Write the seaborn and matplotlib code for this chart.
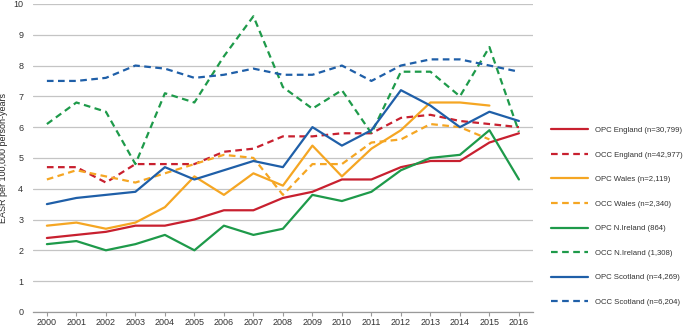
# -*- coding: utf-8 -*-
"""EASR per 100,000 person-years, OPC vs OCC by UK nation, 2000-2016."""
import matplotlib
matplotlib.use("Agg")
import matplotlib.pyplot as plt
import numpy as np
import pandas as pd
import seaborn as sns

YEARS = list(range(2000, 2017))

OPC_ENGLAND = [2.4, 2.5, 2.6, 2.8, 2.8, 3.0, 3.3, 3.3, 3.7, 3.9, 4.3, 4.3, 4.7, 4.9, 4.9, 5.5, 5.8]
OCC_ENGLAND = [4.7, 4.7, 4.2, 4.8, 4.8, 4.8, 5.2, 5.3, 5.7, 5.7, 5.8, 5.8, 6.3, 6.4, 6.2, 6.1, 6.0]
OPC_WALES = [2.8, 2.9, 2.7, 2.9, 3.4, 4.4, 3.8, 4.5, 4.1, 5.4, 4.4, 5.3, 5.9, 6.8, 6.8, 6.7, np.nan]
OCC_WALES = [4.3, 4.6, 4.4, 4.2, 4.5, 4.8, 5.1, 5.0, 3.8, 4.8, 4.8, 5.5, 5.6, 6.1, 6.0, 5.6, np.nan]
OPC_NIRELAND = [2.2, 2.3, 2.0, 2.2, 2.5, 2.0, 2.8, 2.5, 2.7, 3.8, 3.6, 3.9, 4.6, 5.0, 5.1, 5.9, 4.3]
OCC_NIRELAND = [6.1, 6.8, 6.5, 4.8, 7.1, 6.8, 8.3, 9.6, 7.3, 6.6, 7.2, 5.8, 7.8, 7.8, 7.0, 8.6, 5.85]
OPC_SCOTLAND = [3.5, 3.7, 3.8, 3.9, 4.7, 4.3, 4.6, 4.9, 4.7, 6.0, 5.4, 5.9, 7.2, 6.7, 6.0, 6.5, 6.2]
OCC_SCOTLAND = [7.5, 7.5, 7.6, 8.0, 7.9, 7.6, 7.7, 7.9, 7.7, 7.7, 8.0, 7.5, 8.0, 8.2, 8.2, 8.0, 7.8]

SERIES = {
    "OPC England (n=30,799)": OPC_ENGLAND,
    "OCC England (n=42,977)": OCC_ENGLAND,
    "OPC Wales (n=2,119)": OPC_WALES,
    "OCC Wales (n=2,340)": OCC_WALES,
    "OPC N.Ireland (864)": OPC_NIRELAND,
    "OCC N.Ireland (1,308)": OCC_NIRELAND,
    "OPC Scotland (n=4,269)": OPC_SCOTLAND,
    "OCC Scotland (n=6,204)": OCC_SCOTLAND,
}

RED, ORANGE, GREEN, BLUE = "#C8202F", "#F5A623", "#1E9A4A", "#1F5FA8"
COLORS = [RED, RED, ORANGE, ORANGE, GREEN, GREEN, BLUE, BLUE]


def build_frame() -> pd.DataFrame:
    rows = []
    for name, vals in SERIES.items():
        for yr, v in zip(YEARS, vals):
            rows.append({"year": yr, "easr": v, "series": name})
    return pd.DataFrame(rows).dropna()


def main() -> None:
    sns.set_theme(style="white")
    plt.rcParams["font.family"] = ["Liberation Sans", "DejaVu Sans"]
    plt.rcParams["text.color"] = "#333333"

    df = build_frame()
    names = list(SERIES)
    palette = dict(zip(names, COLORS))
    dashes = {n: ("" if n.startswith("OPC") else (3, 2)) for n in names}

    fig = plt.figure(figsize=(6.85, 3.29), dpi=100)
    ax = fig.add_axes([0.048, 0.052, 0.73, 0.936])
    sns.lineplot(data=df, x="year", y="easr", hue="series", style="series",
                 hue_order=names, style_order=names, palette=palette,
                 dashes=dashes, linewidth=1.6, ax=ax)

    ax.set_xlim(1999.525, 2016.475)
    ax.set_ylim(0, 10)
    ax.set_xticks(YEARS)
    ax.set_yticks(range(0, 11))
    ax.tick_params(axis="both", labelsize=6.5, colors="#333333")
    ax.tick_params(axis="x", length=3, width=0.8, color="#9a9a9a",
                   direction="out", bottom=True, pad=1.5)
    ax.tick_params(axis="y", length=0, pad=7)
    ax.yaxis.grid(True, color="#c4c4c4", linewidth=0.9)
    ax.set_axisbelow(True)
    for side in ("left", "right", "top"):
        ax.spines[side].set_visible(False)
    ax.spines["bottom"].set_color("#9a9a9a")
    ax.spines["bottom"].set_linewidth(0.9)
    ax.set_xlabel("")
    ax.set_ylabel("EASR per 100,000 person-years", fontsize=6.5)
    ax.yaxis.set_label_coords(-0.05, 0.5)

    handles, labels = ax.get_legend_handles_labels()
    ax.legend(handles, labels, loc="upper left", bbox_to_anchor=(0.805, 0.615),
              bbox_transform=fig.transFigure, frameon=False, fontsize=5.6,
              handlelength=4.75, handletextpad=0.9, labelspacing=2.2,
              borderaxespad=0, borderpad=0)

    fig.savefig("out.png", dpi=100, facecolor="white")


if __name__ == "__main__":
    main()
